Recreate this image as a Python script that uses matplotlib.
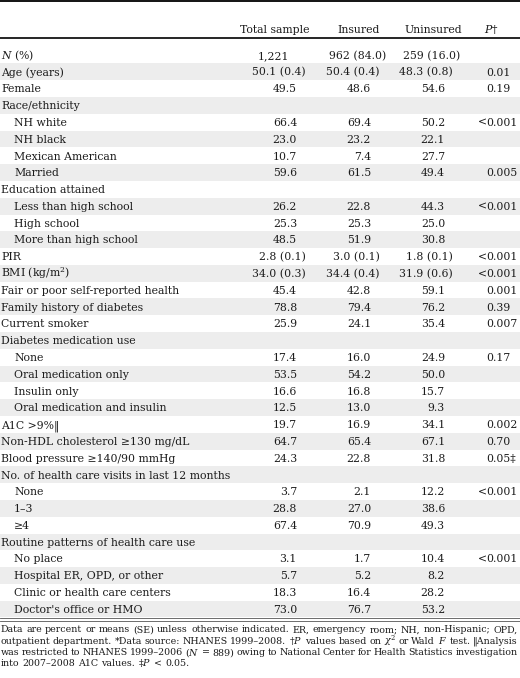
import matplotlib
matplotlib.use("Agg")
import matplotlib.pyplot as plt
from matplotlib.patches import Rectangle

plt.rcParams['font.family'] = ['DejaVu Serif', 'DejaVu Sans']
plt.rcParams['mathtext.fontset'] = 'dejavuserif'

# ---------------- data ----------------
columns = ["Total sample", "Insured", "Uninsured", "$P$†"]

labels = ["$N$ (%)", "Age (years)", "Female", "Race/ethnicity", "NH white", "NH black",
          "Mexican American", "Married", "Education attained", "Less than high school",
          "High school", "More than high school", "PIR", "BMI (kg/m$^2$)",
          "Fair or poor self-reported health", "Family history of diabetes", "Current smoker",
          "Diabetes medication use", "None", "Oral medication only", "Insulin only",
          "Oral medication and insulin", "A1C >9%‖", "Non-HDL cholesterol ≥130 mg/dL",
          "Blood pressure ≥140/90 mmHg", "No. of health care visits in last 12 months",
          "None", "1–3", "≥4", "Routine patterns of health care use", "No place",
          "Hospital ER, OPD, or other", "Clinic or health care centers", "Doctor's office or HMO"]

indented = [0, 0, 0, 0, 1, 1, 1, 1, 0, 1, 1, 1, 0, 0, 0, 0, 0, 0, 1, 1, 1, 1, 0, 0, 0, 0,
            1, 1, 1, 0, 1, 1, 1, 1]

total = ["1,221", "50.1 (0.4)", "49.5", "", "66.4", "23.0", "10.7", "59.6", "", "26.2", "25.3",
         "48.5", "2.8 (0.1)", "34.0 (0.3)", "45.4", "78.8", "25.9", "", "17.4", "53.5", "16.6",
         "12.5", "19.7", "64.7", "24.3", "", "3.7", "28.8", "67.4", "", "3.1", "5.7", "18.3", "73.0"]

insured = ["962 (84.0)", "50.4 (0.4)", "48.6", "", "69.4", "23.2", "7.4", "61.5", "", "22.8",
           "25.3", "51.9", "3.0 (0.1)", "34.4 (0.4)", "42.8", "79.4", "24.1", "", "16.0", "54.2",
           "16.8", "13.0", "16.9", "65.4", "22.8", "", "2.1", "27.0", "70.9", "", "1.7", "5.2",
           "16.4", "76.7"]

uninsured = ["259 (16.0)", "48.3 (0.8)", "54.6", "", "50.2", "22.1", "27.7", "49.4", "", "44.3",
             "25.0", "30.8", "1.8 (0.1)", "31.9 (0.6)", "59.1", "76.2", "35.4", "", "24.9", "50.0",
             "15.7", "9.3", "34.1", "67.1", "31.8", "", "12.2", "38.6", "49.3", "", "10.4", "8.2",
             "28.2", "53.2"]

pvals = ["", "0.01", "0.19", "", "<0.001", "", "", "0.005", "", "<0.001", "", "", "<0.001",
         "<0.001", "0.001", "0.39", "0.007", "", "0.17", "", "", "", "0.002", "0.70", "0.05‡",
         "", "<0.001", "", "", "", "<0.001", "", "", ""]

footnote_lines = [
    "Data are percent or means (SE) unless otherwise indicated. ER, emergency room; NH, non-Hispanic; OPD,",
    "outpatient department. *Data source: NHANES 1999–2008. †$P$ values based on $\\chi^2$ or Wald $F$ test. ‖Analysis",
    "was restricted to NHANES 1999–2006 ($N$ = 889) owing to National Center for Health Statistics investigation",
    "into 2007–2008 A1C values. ‡$P$ < 0.05.",
]

# ---------------- layout ----------------
W, H = 520, 678
fig = plt.figure(figsize=(W / 100, H / 100), dpi=100)
ax = fig.add_axes([0, 0, 1, 1])
ax.set_xlim(0, W)
ax.set_ylim(H, 0)
ax.axis('off')

TXT = '#1c1c1c'
FS = 7.8
FS_NOTE = 6.85
row0, rowh = 55.0, 16.79
base_off = 3.8

# header
hy = 29 + base_off
ax.text(310, hy, columns[0], ha='right', va='baseline', fontsize=FS, color=TXT)
ax.text(380, hy, columns[1], ha='right', va='baseline', fontsize=FS, color=TXT)
ax.text(462, hy, columns[2], ha='right', va='baseline', fontsize=FS, color=TXT)
ax.text(484, hy, columns[3], ha='left', va='baseline', fontsize=FS, color=TXT)

ax.plot([0, W], [0.8, 0.8], color='black', lw=1.3, solid_capstyle='butt')
ax.plot([0, W], [38, 38], color='black', lw=1.2, solid_capstyle='butt')

# column anchors: (right edge for plain numbers, right edge for "x (y)")
anchors = [(297, 306), (371, 380), (445, 453)]

for i, lab in enumerate(labels):
    yc = row0 + i * rowh
    if i % 2 == 1:
        ax.add_patch(Rectangle((0, yc - rowh / 2), W, rowh, facecolor='#ededed',
                               edgecolor='none', zorder=0))
    yb = yc + base_off
    ax.text(14 if indented[i] else 1, yb, lab, ha='left', va='baseline',
            fontsize=FS, color=TXT)
    for col, (plain_r, par_r) in zip((total, insured, uninsured), anchors):
        v = col[i]
        if not v:
            continue
        if i == 0 and col is not total:
            left = 329 if col is insured else 403
            ax.text(left, yb, v, ha='left', va='baseline', fontsize=FS, color=TXT)
        elif i == 0:
            ax.text(289, yb, v, ha='right', va='baseline', fontsize=FS, color=TXT)
        elif '(' in v:
            ax.text(par_r, yb, v, ha='right', va='baseline', fontsize=FS, color=TXT)
        else:
            ax.text(plain_r, yb, v, ha='right', va='baseline', fontsize=FS, color=TXT)
    p = pvals[i]
    if p:
        if p.startswith('<'):
            ax.text(487, yb, '<', ha='right', va='baseline', fontsize=FS, color=TXT)
            ax.text(486.5, yb, p[1:], ha='left', va='baseline', fontsize=FS, color=TXT)
        else:
            ax.text(486, yb, p, ha='left', va='baseline', fontsize=FS, color=TXT)

# bottom double rule
ax.plot([0, W], [618.3, 618.3], color='#555555', lw=0.6)
ax.plot([0, W], [620.6, 620.6], color='#555555', lw=0.6)

# footnote (justified for all but last line)
renderer = fig.canvas.get_renderer()
note_y = [629, 640.5, 652, 663]
x_left, x_right = 0.5, 517.5
for li, line in enumerate(footnote_lines):
    yb = note_y[li] + 3.2
    words = line.split(' ')
    texts = [ax.text(0, yb, w, ha='left', va='baseline', fontsize=FS_NOTE, color=TXT)
             for w in words]
    widths = []
    for t in texts:
        bb = t.get_window_extent(renderer)
        widths.append(bb.width)
    if li < len(footnote_lines) - 1 and len(words) > 1:
        gap = (x_right - x_left - sum(widths)) / (len(words) - 1)
    else:
        sp = ax.text(0, yb, 'a a', fontsize=FS_NOTE)
        aa = ax.text(0, yb, 'aa', fontsize=FS_NOTE)
        gap = sp.get_window_extent(renderer).width - aa.get_window_extent(renderer).width
        sp.remove()
        aa.remove()
    x = x_left
    for t, w in zip(texts, widths):
        t.set_x(x)
        x += w + gap

fig.savefig('out.png', dpi=100)
